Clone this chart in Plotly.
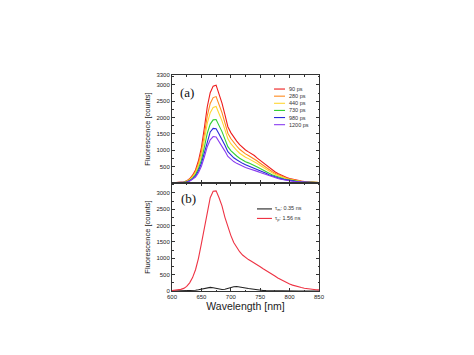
import plotly.graph_objects as go

wavelength = list(range(600, 851, 5))

delay_labels = ["90 ps", "280 ps", "440 ps", "730 ps", "980 ps", "1200 ps"]
delay_colors = ["#ee1c1c", "#ff8a1e", "#ffd633", "#33d033", "#2a2ad8", "#8a3cf0"]

f_90 = [5,7,12,18,32,65,130,240,400,680,1080,1680,2330,2760,2960,2990,2720,2440,2090,1720,1540,1390,1280,1170,1080,1010,950,900,840,760,690,610,540,470,400,345,290,240,200,165,135,110,90,72,58,46,38,30,25,20,16]
f_280 = [4,6,10,16,28,57,114,210,350,600,950,1480,2050,2430,2610,2640,2400,2150,1840,1520,1360,1230,1130,1030,950,890,840,790,740,670,605,535,475,415,350,300,255,210,175,145,118,97,79,63,51,40,33,26,22,17,14]
f_440 = [4,5,9,14,25,50,100,185,310,530,840,1310,1820,2150,2310,2340,2130,1900,1630,1350,1200,1090,1000,910,840,790,745,700,655,595,535,475,420,365,310,265,225,185,155,128,105,86,70,56,45,36,30,23,19,15,12]
f_730 = [3,4,7,11,19,38,80,150,255,440,700,1090,1520,1800,1930,1940,1760,1570,1340,1110,990,900,825,755,695,650,615,580,540,490,440,390,345,300,255,220,185,155,128,105,87,71,58,46,37,30,24,19,16,13,10]
f_980 = [3,4,6,9,16,30,65,125,215,375,600,935,1310,1560,1670,1660,1500,1340,1150,955,850,770,710,650,600,560,525,495,460,420,380,335,295,255,220,190,160,133,110,90,75,61,50,40,32,26,21,17,14,11,9]
f_1200 = [2,3,5,8,13,25,52,105,180,315,510,795,1110,1320,1420,1405,1270,1135,975,810,720,655,600,550,510,475,445,420,390,355,320,285,250,218,187,160,135,112,93,77,63,52,42,34,27,22,18,14,12,9,8]

comp_labels = ["\u03c4<sub>m</sub>: 0.35 ns", "\u03c4<sub>p</sub>: 1.56 ns"]
comp_colors = ["#222222", "#ee3344"]
f_tau_m = [0,0,0,0,1,3,6,12,22,36,55,75,95,110,100,82,60,45,55,85,112,128,135,128,112,92,75,60,46,33,23,16,11,8,5,4,3,2,2,1,1,1,0,0,0,0,0,0,0,0,0]
f_tau_p = [15,20,30,50,80,140,250,410,650,1000,1450,1950,2450,2850,3050,3060,2850,2600,2250,1950,1700,1480,1320,1200,1100,1020,960,910,860,800,740,680,630,580,520,460,400,350,300,255,215,180,150,125,105,85,70,58,48,40,35]

a_series = [f_90, f_280, f_440, f_730, f_980, f_1200]
b_series = [f_tau_m, f_tau_p]

fig = go.Figure()
for name, col, ys in zip(delay_labels, delay_colors, a_series):
    fig.add_trace(go.Scatter(x=wavelength, y=ys, mode="lines", name=name,
                             line=dict(color=col, width=1.1), xaxis="x", yaxis="y",
                             showlegend=False))
for name, col, ys in zip(comp_labels, comp_colors, b_series):
    fig.add_trace(go.Scatter(x=wavelength, y=ys, mode="lines", name=name,
                             line=dict(color=col, width=1.1), xaxis="x2", yaxis="y2",
                             showlegend=False))

axis_common = dict(showline=True, linecolor="#333", linewidth=1, mirror="ticks",
                   ticks="inside", ticklen=3, tickcolor="#333", showgrid=False,
                   zeroline=False, automargin=False,
                   tickfont=dict(family="Liberation Sans", size=6, color="#222"),
                   minor=dict(ticks="inside", ticklen=1.5, tickcolor="#333"))

fig.update_layout(
    width=474, height=355,
    margin=dict(l=164, r=163, t=67, b=72, autoexpand=False),
    paper_bgcolor="white", plot_bgcolor="white",
    font=dict(family="Liberation Sans", color="#222"),
    xaxis=dict(domain=[0, 1], anchor="y", range=[600, 850], dtick=50,
               showticklabels=False, minor_dtick=25, **axis_common),
    yaxis=dict(domain=[0.5, 1], anchor="x", range=[0, 3300],
               tickvals=[500, 1000, 1500, 2000, 2500, 3000, 3300],
               minor_dtick=250,
               title=dict(text="Fluorescence [counts]", font=dict(size=7.5), standoff=4),
               **axis_common),
    xaxis2=dict(domain=[0, 1], anchor="y2", range=[600, 850], dtick=50,
                minor_dtick=25,
                title=dict(text="Wavelength [nm]", font=dict(size=10.5), standoff=2),
                **axis_common),
    yaxis2=dict(domain=[0, 0.5], anchor="x2", range=[0, 3300],
                tickvals=[0, 500, 1000, 1500, 2000, 2500, 3000],
                minor_dtick=250,
                title=dict(text="Fluorescence [counts]", font=dict(size=7.5), standoff=4),
                **axis_common),
)

# panel labels
fig.add_annotation(text="(a)", xref="paper", yref="paper", x=0.04, y=0.921,
                   xanchor="left", yanchor="middle", showarrow=False,
                   font=dict(family="Liberation Serif", size=13, color="#111"))
fig.add_annotation(text="(b)", xref="paper", yref="paper", x=0.045, y=0.426,
                   xanchor="left", yanchor="middle", showarrow=False,
                   font=dict(family="Liberation Serif", size=13, color="#111"))

# compact legends
a_rows = [0.935, 0.902, 0.869, 0.836, 0.803, 0.770]
for name, col, yp in zip(delay_labels, delay_colors, a_rows):
    fig.add_shape(type="line", xref="paper", yref="paper", x0=0.694, x1=0.769,
                  y0=yp, y1=yp, line=dict(color=col, width=1.1))
    fig.add_annotation(text=name, xref="paper", yref="paper", x=0.785, y=yp,
                       xanchor="left", yanchor="middle", showarrow=False,
                       font=dict(size=5.5, color="#333"))
b_rows = [0.380, 0.336]
for name, col, yp in zip(comp_labels, comp_colors, b_rows):
    fig.add_shape(type="line", xref="paper", yref="paper", x0=0.578, x1=0.680,
                  y0=yp, y1=yp, line=dict(color=col, width=1.1))
    fig.add_annotation(text=name, xref="paper", yref="paper", x=0.69, y=yp,
                       xanchor="left", yanchor="middle", showarrow=False,
                       font=dict(size=5.5, color="#333"))

fig.write_html("out.html")
